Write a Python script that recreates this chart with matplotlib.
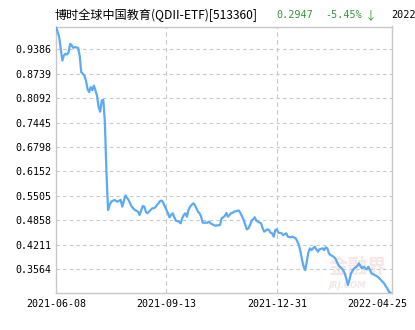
import matplotlib
matplotlib.use("Agg")
import matplotlib.pyplot as plt
import matplotlib.transforms as mtransforms

# ---- data ----
day = [0, 2, 4, 5, 6, 7, 8, 9, 10, 11, 12, 14, 15, 16, 17, 18, 19, 20, 21, 22,
       23, 24, 25, 26, 27, 28, 29, 30, 31, 32, 33, 34, 35, 37, 39, 41, 42, 44, 46, 48,
       50, 52, 53, 55, 56, 57, 58, 60, 61, 62, 63, 64, 65, 66, 67, 68, 69, 70, 71, 72,
       73, 74, 75, 76, 78, 79, 80, 81, 82, 83, 84, 85, 86, 87, 88, 89, 90, 91, 92, 93,
       96, 97, 98, 100, 101, 104, 105, 106, 107, 108, 109, 110, 111, 112, 113, 115, 116, 117, 118, 119,
       120, 121, 122, 123, 124, 125, 126, 127, 128, 130, 131, 132, 134, 135, 136, 137, 138, 139, 140, 141,
       143, 144, 146, 147, 149, 150, 152, 153, 154, 155, 156, 157, 158, 159, 160, 161, 162, 163, 164, 165,
       166, 167, 169, 170, 171, 172, 173, 174, 176, 177, 178, 179, 180, 182, 183, 184, 185, 186, 187, 188,
       189, 190, 191, 192, 193, 194, 195, 197, 198, 199, 200, 202, 204, 206, 208, 209, 210, 211, 212]
nav = [0.998, 0.9712, 0.9084, 0.9217, 0.9262, 0.9243, 0.9307, 0.9526, 0.9481, 0.9420,
       0.9439, 0.9420, 0.9217, 0.8777, 0.8732, 0.8687, 0.8555, 0.8335, 0.8248, 0.8380,
       0.8300, 0.8422, 0.8290, 0.8158, 0.7850, 0.7730, 0.8031, 0.8044, 0.7435, 0.6112,
       0.5132, 0.5265, 0.5352, 0.5397, 0.5352, 0.5397, 0.5220, 0.5516, 0.5397, 0.5220,
       0.5132, 0.5087, 0.5000, 0.5238, 0.5220, 0.5087, 0.5045, 0.5132, 0.5177, 0.5177,
       0.5204, 0.5265, 0.5310, 0.5371, 0.5379, 0.5326, 0.5220, 0.5132, 0.5045, 0.4939,
       0.5000, 0.5045, 0.4939, 0.4849, 0.4823, 0.4780, 0.4913, 0.5000, 0.5045, 0.4955,
       0.5132, 0.5220, 0.5265, 0.5310, 0.5265, 0.5177, 0.5087, 0.5045, 0.4955, 0.4796,
       0.4796, 0.4823, 0.4780, 0.4735, 0.4717, 0.4735, 0.4913, 0.4939, 0.4973, 0.5053,
       0.4955, 0.5000, 0.5045, 0.5061, 0.5087, 0.5114, 0.5114, 0.5045, 0.4955, 0.4868,
       0.4735, 0.4621, 0.4648, 0.4735, 0.4849, 0.4886, 0.4939, 0.4849, 0.4823, 0.4780,
       0.4648, 0.4558, 0.4621, 0.4603, 0.4531, 0.4516, 0.4425, 0.4603, 0.4621, 0.4531,
       0.4516, 0.4470, 0.4516, 0.4425, 0.4410, 0.4425, 0.4383, 0.4293, 0.4206, 0.4028,
       0.3809, 0.3631, 0.3544, 0.3770, 0.4007, 0.4118, 0.4073, 0.4118, 0.4161, 0.4092,
       0.4028, 0.4092, 0.4118, 0.4073, 0.4145, 0.4118, 0.3986, 0.3941, 0.3896, 0.3854,
       0.3764, 0.3676, 0.3631, 0.3544, 0.3457, 0.3324, 0.3147, 0.3279, 0.3457, 0.3526,
       0.3589, 0.3616, 0.3650, 0.3721, 0.3650, 0.3589, 0.3631, 0.3563, 0.3631, 0.3544,
       0.3457, 0.3412, 0.3367, 0.3279, 0.3192, 0.3121, 0.3060, 0.2970, 0.2947]
ytick_vals = [0.3564, 0.4211, 0.4858, 0.5505, 0.6152, 0.6798, 0.7445, 0.8092, 0.8739, 0.9386]
xtick_days = [0, 70, 140, 213]
xtick_labels = ["2021-06-08", "2021-09-13", "2021-12-31", "2022-04-25"]
fund_name = "博时全球中国教育(QDII-ETF)[513360]"
last_nav = "0.2947"
change_pct = "-5.45%"
change_arrow = "↓"
last_date = "2022-04-25"

W, H = 415, 330
fig = plt.figure(figsize=(W / 100, H / 100), dpi=100)
ax = fig.add_axes([56 / W, 1 - 293 / H, (392 - 56) / W, (293 - 26.5) / H])

mono = ["DejaVu Sans Mono", "Noto Sans CJK SC"]
grid_c = "#c8c8c8"
green = "#36993a"

# watermark
ax.text(0.81, 0.095, "金融界", transform=ax.transAxes, fontsize=14, fontweight="bold",
        color="#f8e6e6", family=["Noto Sans CJK SC"], ha="left", va="center", zorder=0)
ax.text(0.81, 0.03, "JRJ.COM", transform=ax.transAxes, fontsize=6, fontweight="bold",
        style="italic", color="#f3e6e6", family=["DejaVu Sans"], ha="left", va="center", zorder=0)

ax.plot(day, nav, color="#5aaaf6", lw=1.6, solid_joinstyle="round", zorder=3, clip_on=True)

ax.set_xlim(0, 213)
ax.set_ylim(0.2937, 0.9984)
ax.set_yticks(ytick_vals)
ax.set_yticklabels([f"{v:.4f}" for v in ytick_vals])
ax.set_xticks(xtick_days)
ax.set_xticklabels(xtick_labels)
for lab in ax.get_xticklabels() + ax.get_yticklabels():
    lab.set_family(mono)
    lab.set_fontsize(7.2)
    lab.set_color("#000000")
ax.tick_params(axis="both", length=0)
ax.tick_params(axis="y", pad=3)
ax.tick_params(axis="x", pad=4)

# shift last x label left so it stays in figure
last = ax.get_xticklabels()[-1]
last.set_transform(last.get_transform() + mtransforms.ScaledTranslation(-15 / 100, 0, fig.dpi_scale_trans))

ax.grid(True, axis="y", color=grid_c, ls=(0, (3, 3)), lw=0.8)
ax.grid(True, axis="x", color=grid_c, ls=(0, (4, 3)), lw=0.8)
for s in ax.spines.values():
    s.set_color(grid_c)
    s.set_linewidth(1.0)

# header
yh = 1 - 15.5 / H
fig.text(55 / W, yh, fund_name, family=["Noto Sans CJK SC", "DejaVu Sans"], fontsize=8.7,
         color="#000000", ha="left", va="center")
fig.text(276.7 / W, yh, last_nav, family=mono, fontsize=7.3, color=green, ha="left", va="center")
fig.text(325 / W, yh, change_pct, family=mono, fontsize=7.3, color=green, ha="left", va="center")
fig.text(365 / W, yh, change_arrow, family=["Noto Sans CJK SC", "DejaVu Sans"], fontsize=8.5,
         color=green, ha="left", va="center")
fig.text(390.7 / W, yh, last_date, family=mono, fontsize=7.3, color="#000000", ha="left", va="center")

fig.savefig("out.png", dpi=100)
